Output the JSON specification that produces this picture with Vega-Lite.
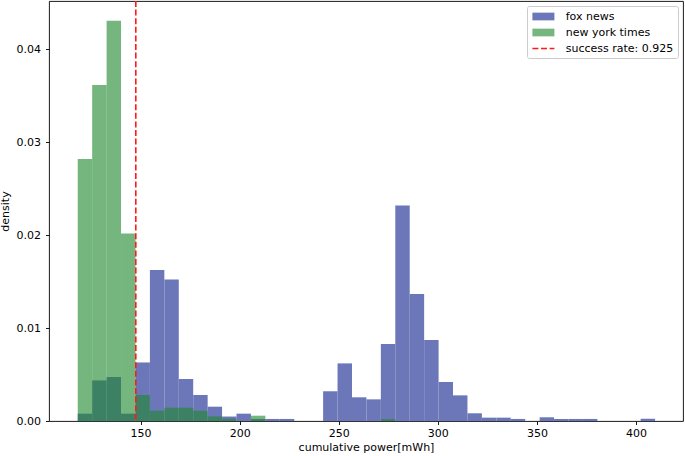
{
  "$schema": "https://vega.github.io/schema/vega-lite/v6.json",
  "width": 634,
  "height": 420,
  "autosize": {"type": "none"},
  "padding": {"left": 49, "top": 1, "right": 2, "bottom": 35},
  "background": "white",
  "config": {
    "font": "DejaVu Sans",
    "view": {"stroke": "#000", "strokeWidth": 0.9},
    "axis": {
      "labelFont": "DejaVu Sans", "labelFontSize": 11, "labelColor": "#000",
      "titleFont": "DejaVu Sans", "titleFontSize": 11, "titleFontWeight": "normal", "titleColor": "#000",
      "tickColor": "#000", "tickSize": 3.5, "tickWidth": 0.9, "domain": false, "grid": false
    }
  },
  "datasets": {
    "hist": [
      {"series": "fox news", "x0": 118.30, "x1": 125.58, "density": 0.00079},
      {"series": "fox news", "x0": 125.58, "x1": 132.87, "density": 0.00437},
      {"series": "fox news", "x0": 132.87, "x1": 140.15, "density": 0.00473},
      {"series": "fox news", "x0": 140.15, "x1": 147.43, "density": 0.00079},
      {"series": "fox news", "x0": 147.43, "x1": 154.72, "density": 0.0063},
      {"series": "fox news", "x0": 154.72, "x1": 162.00, "density": 0.01624},
      {"series": "fox news", "x0": 162.00, "x1": 169.28, "density": 0.01523},
      {"series": "fox news", "x0": 169.28, "x1": 176.56, "density": 0.00452},
      {"series": "fox news", "x0": 176.56, "x1": 183.85, "density": 0.0028},
      {"series": "fox news", "x0": 183.85, "x1": 191.13, "density": 0.00154},
      {"series": "fox news", "x0": 191.13, "x1": 198.41, "density": 0.00048},
      {"series": "fox news", "x0": 198.41, "x1": 205.70, "density": 0.00079},
      {"series": "fox news", "x0": 205.70, "x1": 212.98, "density": 0.00022},
      {"series": "fox news", "x0": 212.98, "x1": 220.26, "density": 0.00022},
      {"series": "fox news", "x0": 220.26, "x1": 227.55, "density": 0.00022},
      {"series": "fox news", "x0": 242.11, "x1": 249.39, "density": 0.0032},
      {"series": "fox news", "x0": 249.39, "x1": 256.68, "density": 0.0062},
      {"series": "fox news", "x0": 256.68, "x1": 263.96, "density": 0.00255},
      {"series": "fox news", "x0": 263.96, "x1": 271.24, "density": 0.00233},
      {"series": "fox news", "x0": 271.24, "x1": 278.53, "density": 0.00828},
      {"series": "fox news", "x0": 278.53, "x1": 285.81, "density": 0.0232},
      {"series": "fox news", "x0": 285.81, "x1": 293.09, "density": 0.01366},
      {"series": "fox news", "x0": 293.09, "x1": 300.38, "density": 0.00871},
      {"series": "fox news", "x0": 300.38, "x1": 307.66, "density": 0.0042},
      {"series": "fox news", "x0": 307.66, "x1": 314.94, "density": 0.00276},
      {"series": "fox news", "x0": 314.94, "x1": 322.22, "density": 0.00083},
      {"series": "fox news", "x0": 322.22, "x1": 329.51, "density": 0.00036},
      {"series": "fox news", "x0": 329.51, "x1": 336.79, "density": 0.00036},
      {"series": "fox news", "x0": 336.79, "x1": 344.07, "density": 0.00022},
      {"series": "fox news", "x0": 351.36, "x1": 358.64, "density": 0.0004},
      {"series": "fox news", "x0": 358.64, "x1": 365.92, "density": 0.00022},
      {"series": "fox news", "x0": 365.92, "x1": 373.21, "density": 0.00022},
      {"series": "fox news", "x0": 373.21, "x1": 380.49, "density": 0.00022},
      {"series": "fox news", "x0": 402.34, "x1": 409.62, "density": 0.00025},
      {"series": "new york times", "x0": 118.30, "x1": 125.58, "density": 0.0282},
      {"series": "new york times", "x0": 125.58, "x1": 132.87, "density": 0.03616},
      {"series": "new york times", "x0": 132.87, "x1": 140.15, "density": 0.04308},
      {"series": "new york times", "x0": 140.15, "x1": 147.43, "density": 0.02018},
      {"series": "new york times", "x0": 147.43, "x1": 154.72, "density": 0.0028},
      {"series": "new york times", "x0": 154.72, "x1": 162.00, "density": 0.00111},
      {"series": "new york times", "x0": 162.00, "x1": 169.28, "density": 0.00143},
      {"series": "new york times", "x0": 169.28, "x1": 176.56, "density": 0.00143},
      {"series": "new york times", "x0": 176.56, "x1": 183.85, "density": 0.0011},
      {"series": "new york times", "x0": 183.85, "x1": 191.13, "density": 0.0005},
      {"series": "new york times", "x0": 191.13, "x1": 198.41, "density": 0.00025},
      {"series": "new york times", "x0": 205.70, "x1": 212.98, "density": 0.00057},
      {"series": "new york times", "x0": 271.24, "x1": 278.53, "density": 0.0002}
    ],
    "rate": [
      {"x": 147.6, "label": "success rate: 0.925"}
    ]
  },
  "layer": [
    {
      "data": {"name": "hist"},
      "mark": {"type": "bar", "orient": "vertical"},
      "encoding": {
        "x": {
          "field": "x0", "type": "quantitative",
          "scale": {"domain": [103.8, 423.7], "nice": false, "zero": false, "padding": 0},
          "axis": {"values": [150, 200, 250, 300, 350, 400], "title": "cumulative power[mWh]", "labelPadding": 3, "titlePadding": 3}
        },
        "x2": {"field": "x1"},
        "y": {
          "field": "density", "type": "quantitative",
          "stack": null,
          "scale": {"domain": [0, 0.0452], "nice": false, "padding": 0},
          "axis": {"values": [0, 0.01, 0.02, 0.03, 0.04], "format": ".2f", "title": "density", "labelPadding": 5, "titlePadding": 6}
        },
        "color": {
          "field": "series", "type": "nominal",
          "scale": {"domain": ["fox news", "new york times", "success rate: 0.925"], "range": ["#6b77b8", "#20882f", "#ff1a1a"]},
          "legend": {
            "title": null,
            "orient": "top-right",
            "offset": 5,
            "padding": 4,
            "fillColor": "rgba(255,255,255,0.8)",
            "strokeColor": "#cccccc",
            "cornerRadius": 2,
            "labelFont": "DejaVu Sans",
            "labelFontSize": 11,
            "labelColor": "#000",
            "symbolSize": 121,
            "symbolOffset": 5.9,
            "labelOffset": 15.8,
            "rowPadding": 4,
            "encode": {
              "symbols": {
                "update": {
                  "shape": [
                    {"test": "datum.value === 'success rate: 0.925'", "value": "M-2,0H2"},
                    {"value": "M-2,-0.7H2V0.7H-2Z"}
                  ],
                  "fill": [
                    {"test": "datum.value === 'success rate: 0.925'", "value": "transparent"},
                    {"test": "datum.value === 'new york times'", "value": "#20882f"},
                    {"value": "#6b77b8"}
                  ],
                  "fillOpacity": [
                    {"test": "datum.value === 'new york times'", "value": 0.62},
                    {"value": 1}
                  ],
                  "stroke": [
                    {"test": "datum.value === 'success rate: 0.925'", "value": "#ff1a1a"},
                    {"value": "transparent"}
                  ],
                  "strokeOpacity": [
                    {"test": "datum.value === 'success rate: 0.925'", "value": 1},
                    {"value": 0}
                  ],
                  "strokeDash": [
                    {"test": "datum.value === 'success rate: 0.925'", "value": [6, 2.6]},
                    {"value": [1, 0]}
                  ],
                  "strokeWidth": {"value": 1.6},
                  "opacity": {"value": 1}
                }
              }
            }
          }
        },
        "fillOpacity": {
          "condition": {"test": "datum.series === 'new york times'", "value": 0.62},
          "value": 1
        }
      }
    },
    {
      "data": {"name": "rate"},
      "mark": {"type": "rule", "strokeDash": [6, 2.6], "strokeWidth": 1.6},
      "encoding": {
        "x": {"field": "x", "type": "quantitative"},
        "color": {"field": "label", "type": "nominal"}
      }
    }
  ]
}
